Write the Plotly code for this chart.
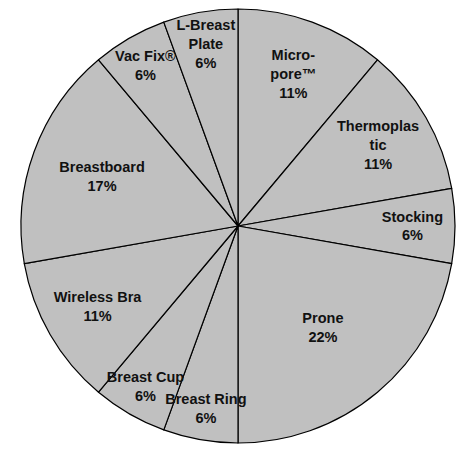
import plotly.graph_objects as go

# Slices clockwise from 12 o'clock (counts out of 18)
labels = ['Micro-<br>pore™', 'Thermoplas<br>tic', 'Stocking', 'Prone', 'Breast Ring',
          'Breast Cup', 'Wireless Bra', 'Breastboard', 'Vac Fix®', 'L-Breast<br>Plate']
counts = [2, 2, 1, 4, 1, 1, 2, 3, 1, 1]

label_font = dict(family='Liberation Sans, Arial, sans-serif', size=14.5,
                  color='#111111', weight='bold')

fig = go.Figure()

# grey slices with black outlines
fig.add_trace(go.Pie(
    labels=labels,
    values=counts,
    sort=False,
    direction='clockwise',
    rotation=0,
    marker=dict(colors=['#c0c0c0'] * len(labels), line=dict(color='black', width=1.2)),
    textinfo='none',
    hoverinfo='label+percent',
    showlegend=False,
))

# same pie again, transparent, so the labels sit on top of every slice edge
fig.add_trace(go.Pie(
    labels=labels,
    values=counts,
    sort=False,
    direction='clockwise',
    rotation=0,
    marker=dict(colors=['rgba(0,0,0,0)'] * len(labels), line=dict(width=0)),
    texttemplate='%{label}<br>%{percent:.0%}',
    textposition='inside',
    insidetextorientation='horizontal',
    insidetextfont=label_font,
    hoverinfo='skip',
    showlegend=False,
))

fig.update_layout(
    width=474,
    height=460,
    margin=dict(l=13, r=27, t=1, b=25),
    paper_bgcolor='white',
    uniformtext=dict(minsize=14.5, mode='show'),
    font=dict(family='Liberation Sans, Arial, sans-serif', size=14.5, color='#111111'),
)

fig.write_html("out.html")
